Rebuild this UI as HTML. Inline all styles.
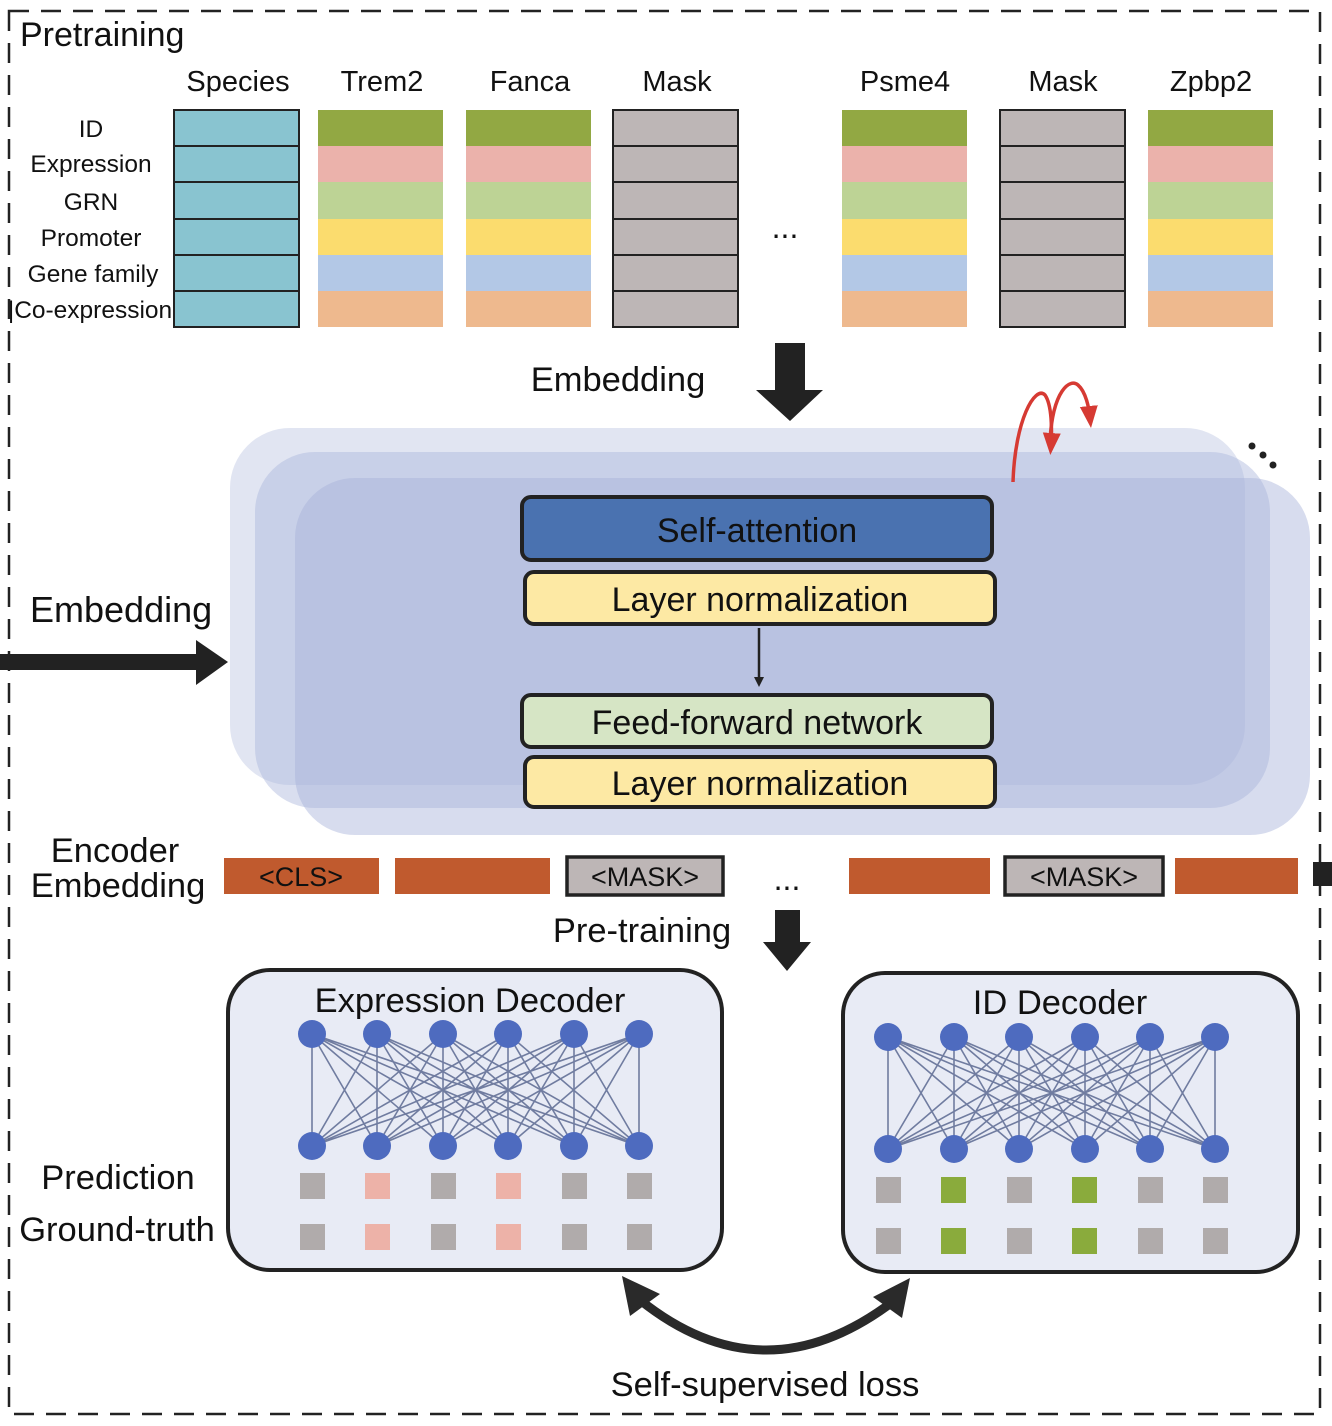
<!DOCTYPE html>
<html><head><meta charset="utf-8"><style>
html,body{margin:0;padding:0;background:#fff;}
svg{display:block;font-family:"Liberation Sans",Arial,sans-serif;}
</style></head><body>
<svg width="1332" height="1426" viewBox="0 0 1332 1426" xmlns="http://www.w3.org/2000/svg">
<defs>
<marker id="ah" markerWidth="10" markerHeight="10" refX="5" refY="5" orient="auto" markerUnits="userSpaceOnUse"><path d="M0,0 L10,5 L0,10 z" fill="#222"/></marker>
<marker id="rh" markerWidth="24" markerHeight="24" refX="12" refY="12" orient="auto" markerUnits="userSpaceOnUse"><path d="M0,3 L22,12 L0,21 z" fill="#d63a33"/></marker>
</defs>
<rect x="9" y="11" width="1311" height="1403" fill="none" stroke="#222" stroke-width="2.5" stroke-dasharray="20 12"/>
<text x="20" y="46" font-size="34" fill="#111">Pretraining</text>
<g font-size="29" fill="#111" text-anchor="middle">
<text x="238" y="91">Species</text><text x="382" y="91">Trem2</text><text x="530" y="91">Fanca</text><text x="677" y="91">Mask</text>
<text x="905" y="91">Psme4</text><text x="1063" y="91">Mask</text><text x="1211" y="91">Zpbp2</text>
</g>
<g font-size="24.5" fill="#111" text-anchor="middle">
<text x="91" y="137">ID</text><text x="91" y="172">Expression</text><text x="91" y="210">GRN</text><text x="91" y="246">Promoter</text><text x="93" y="282">Gene family</text><text x="90" y="318">|Co-expression</text>
</g>
<g stroke="#222" stroke-width="2">
<rect x="174" y="110" width="125" height="36" fill="#89c4d0"/><rect x="174" y="146" width="125" height="36" fill="#89c4d0"/><rect x="174" y="182" width="125" height="37" fill="#89c4d0"/><rect x="174" y="219" width="125" height="36" fill="#89c4d0"/><rect x="174" y="255" width="125" height="36" fill="#89c4d0"/><rect x="174" y="291" width="125" height="36" fill="#89c4d0"/>
<rect x="613" y="110" width="125" height="36" fill="#bdb6b6"/><rect x="613" y="146" width="125" height="36" fill="#bdb6b6"/><rect x="613" y="182" width="125" height="37" fill="#bdb6b6"/><rect x="613" y="219" width="125" height="36" fill="#bdb6b6"/><rect x="613" y="255" width="125" height="36" fill="#bdb6b6"/><rect x="613" y="291" width="125" height="36" fill="#bdb6b6"/>
<rect x="1000" y="110" width="125" height="36" fill="#bdb6b6"/><rect x="1000" y="146" width="125" height="36" fill="#bdb6b6"/><rect x="1000" y="182" width="125" height="37" fill="#bdb6b6"/><rect x="1000" y="219" width="125" height="36" fill="#bdb6b6"/><rect x="1000" y="255" width="125" height="36" fill="#bdb6b6"/><rect x="1000" y="291" width="125" height="36" fill="#bdb6b6"/>
</g>
<g>
<g id="col"><rect x="318" y="110" width="125" height="36" fill="#92a843"/><rect x="318" y="146" width="125" height="36" fill="#ebb2ab"/><rect x="318" y="182" width="125" height="37" fill="#bdd395"/><rect x="318" y="219" width="125" height="36" fill="#fbdc6e"/><rect x="318" y="255" width="125" height="36" fill="#b3c8e6"/><rect x="318" y="291" width="125" height="36" fill="#eeb98e"/></g>
<use href="#col" x="148"/><use href="#col" x="524"/><use href="#col" x="830"/>
</g>
<text x="785" y="238" font-size="32" text-anchor="middle" fill="#111">...</text>
<text x="618" y="391" font-size="34.5" text-anchor="middle" fill="#111">Embedding</text>
<path d="M775,343 H805 V390 H823 L790,421 L756,390 H775 Z" fill="#222"/>
<rect x="230" y="428" width="1015" height="357" rx="60" fill="#c4cbe6" fill-opacity="0.5"/>
<rect x="255" y="452" width="1015" height="356" rx="60" fill="#aab5dc" fill-opacity="0.45"/>
<rect x="295" y="478" width="1015" height="357" rx="60" fill="#a6b2da" fill-opacity="0.45"/>
<path d="M1013,482 C1015,420 1035,385 1045,395 C1052,405 1052,430 1051,445" fill="none" stroke="#d63a33" stroke-width="3.5" marker-end="url(#rh)"/>
<path d="M1050,440 C1053,390 1070,378 1078,385 C1086,392 1089,408 1090,418" fill="none" stroke="#d63a33" stroke-width="3.5" marker-end="url(#rh)"/>
<circle cx="1252" cy="446" r="3.5" fill="#222"/><circle cx="1263" cy="455" r="3.5" fill="#222"/><circle cx="1273" cy="465" r="3.5" fill="#222"/>
<g stroke="#222" stroke-width="4">
<rect x="522" y="497" width="470" height="63" rx="9" fill="#4a72b0"/>
<rect x="525" y="572" width="470" height="52" rx="9" fill="#fde9a4"/>
<rect x="522" y="695" width="470" height="52" rx="9" fill="#d6e5c5"/>
<rect x="525" y="757" width="470" height="50" rx="9" fill="#fde9a4"/>
</g>
<g font-size="34" text-anchor="middle" fill="#111">
<text x="757" y="542">Self-attention</text>
<text x="760" y="611">Layer normalization</text>
<text x="757" y="734">Feed-forward network</text>
<text x="760" y="795">Layer normalization</text>
</g>
<line x1="759" y1="628" x2="759" y2="682" stroke="#222" stroke-width="2.5" marker-end="url(#ah)"/>
<text x="30" y="622" font-size="36" fill="#111">Embedding</text>
<path d="M0,654 H196 V640 L228,662 L196,685 V670 H0 Z" fill="#222"/>
<g font-size="34.5" text-anchor="middle" fill="#111"><text x="115" y="862">Encoder</text><text x="118" y="897">Embedding</text></g>
<g fill="#c05a2e"><rect x="224" y="858" width="155" height="36"/><rect x="395" y="858" width="155" height="36"/><rect x="849" y="858" width="141" height="36"/><rect x="1175" y="858" width="123" height="36"/></g>
<g fill="#bdb6b6" stroke="#222" stroke-width="3.5"><rect x="567" y="857" width="156" height="38"/><rect x="1005" y="857" width="158" height="38"/></g>
<rect x="1313" y="862" width="19" height="24" fill="#222"/>
<g font-size="27" text-anchor="middle" fill="#111"><text x="301" y="886">&lt;CLS&gt;</text><text x="645" y="886">&lt;MASK&gt;</text><text x="1084" y="886">&lt;MASK&gt;</text></g>
<text x="787" y="890" font-size="32" text-anchor="middle" fill="#111">...</text>
<text x="642" y="942" font-size="34.5" text-anchor="middle" fill="#111">Pre-training</text>
<path d="M775,910 H800 V942 H811 L787,971 L763,942 H775 Z" fill="#222"/>
<rect x="228" y="970" width="494" height="300" rx="42" fill="#e8ebf5" stroke="#222" stroke-width="4"/>
<rect x="843" y="973" width="455" height="299" rx="42" fill="#e8ebf5" stroke="#222" stroke-width="4"/>
<text x="470" y="1012" font-size="34.5" text-anchor="middle" fill="#111">Expression Decoder</text>
<text x="1060" y="1014" font-size="34.5" text-anchor="middle" fill="#111">ID Decoder</text>
<g stroke="#5a6890" stroke-width="1.6" stroke-opacity="0.85">
<path d="M312,1034L312,1146M312,1034L377,1146M312,1034L443,1146M312,1034L508,1146M312,1034L574,1146M312,1034L639,1146M377,1034L312,1146M377,1034L377,1146M377,1034L443,1146M377,1034L508,1146M377,1034L574,1146M377,1034L639,1146M443,1034L312,1146M443,1034L377,1146M443,1034L443,1146M443,1034L508,1146M443,1034L574,1146M443,1034L639,1146M508,1034L312,1146M508,1034L377,1146M508,1034L443,1146M508,1034L508,1146M508,1034L574,1146M508,1034L639,1146M574,1034L312,1146M574,1034L377,1146M574,1034L443,1146M574,1034L508,1146M574,1034L574,1146M574,1034L639,1146M639,1034L312,1146M639,1034L377,1146M639,1034L443,1146M639,1034L508,1146M639,1034L574,1146M639,1034L639,1146"/>
<path d="M888,1037L888,1149M888,1037L954,1149M888,1037L1019,1149M888,1037L1085,1149M888,1037L1150,1149M888,1037L1215,1149M954,1037L888,1149M954,1037L954,1149M954,1037L1019,1149M954,1037L1085,1149M954,1037L1150,1149M954,1037L1215,1149M1019,1037L888,1149M1019,1037L954,1149M1019,1037L1019,1149M1019,1037L1085,1149M1019,1037L1150,1149M1019,1037L1215,1149M1085,1037L888,1149M1085,1037L954,1149M1085,1037L1019,1149M1085,1037L1085,1149M1085,1037L1150,1149M1085,1037L1215,1149M1150,1037L888,1149M1150,1037L954,1149M1150,1037L1019,1149M1150,1037L1085,1149M1150,1037L1150,1149M1150,1037L1215,1149M1215,1037L888,1149M1215,1037L954,1149M1215,1037L1019,1149M1215,1037L1085,1149M1215,1037L1150,1149M1215,1037L1215,1149"/>
</g>
<g fill="#4e6bbf">
<circle cx="312" cy="1034" r="14"/><circle cx="377" cy="1034" r="14"/><circle cx="443" cy="1034" r="14"/><circle cx="508" cy="1034" r="14"/><circle cx="574" cy="1034" r="14"/><circle cx="639" cy="1034" r="14"/>
<circle cx="312" cy="1146" r="14"/><circle cx="377" cy="1146" r="14"/><circle cx="443" cy="1146" r="14"/><circle cx="508" cy="1146" r="14"/><circle cx="574" cy="1146" r="14"/><circle cx="639" cy="1146" r="14"/>
<circle cx="888" cy="1037" r="14"/><circle cx="954" cy="1037" r="14"/><circle cx="1019" cy="1037" r="14"/><circle cx="1085" cy="1037" r="14"/><circle cx="1150" cy="1037" r="14"/><circle cx="1215" cy="1037" r="14"/>
<circle cx="888" cy="1149" r="14"/><circle cx="954" cy="1149" r="14"/><circle cx="1019" cy="1149" r="14"/><circle cx="1085" cy="1149" r="14"/><circle cx="1150" cy="1149" r="14"/><circle cx="1215" cy="1149" r="14"/>
</g>
<g>
<rect x="300" y="1173" width="25" height="26" fill="#b0abab"/><rect x="365" y="1173" width="25" height="26" fill="#edb2a8"/><rect x="431" y="1173" width="25" height="26" fill="#b0abab"/><rect x="496" y="1173" width="25" height="26" fill="#edb2a8"/><rect x="562" y="1173" width="25" height="26" fill="#b0abab"/><rect x="627" y="1173" width="25" height="26" fill="#b0abab"/>
<rect x="300" y="1224" width="25" height="26" fill="#b0abab"/><rect x="365" y="1224" width="25" height="26" fill="#edb2a8"/><rect x="431" y="1224" width="25" height="26" fill="#b0abab"/><rect x="496" y="1224" width="25" height="26" fill="#edb2a8"/><rect x="562" y="1224" width="25" height="26" fill="#b0abab"/><rect x="627" y="1224" width="25" height="26" fill="#b0abab"/>
<rect x="876" y="1177" width="25" height="26" fill="#b0abab"/><rect x="941" y="1177" width="25" height="26" fill="#8aab3c"/><rect x="1007" y="1177" width="25" height="26" fill="#b0abab"/><rect x="1072" y="1177" width="25" height="26" fill="#8aab3c"/><rect x="1138" y="1177" width="25" height="26" fill="#b0abab"/><rect x="1203" y="1177" width="25" height="26" fill="#b0abab"/>
<rect x="876" y="1228" width="25" height="26" fill="#b0abab"/><rect x="941" y="1228" width="25" height="26" fill="#8aab3c"/><rect x="1007" y="1228" width="25" height="26" fill="#b0abab"/><rect x="1072" y="1228" width="25" height="26" fill="#8aab3c"/><rect x="1138" y="1228" width="25" height="26" fill="#b0abab"/><rect x="1203" y="1228" width="25" height="26" fill="#b0abab"/>
</g>
<g font-size="34.5" text-anchor="middle" fill="#111"><text x="118" y="1189">Prediction</text><text x="117" y="1241">Ground-truth</text></g>
<path d="M640,1300 Q765,1400 895,1300" fill="none" stroke="#2a2a2a" stroke-width="9"/>
<path d="M622,1276 L660,1294 L630,1316 Z" fill="#2a2a2a"/>
<path d="M910,1278 L902,1318 L873,1297 Z" fill="#2a2a2a"/>
<text x="765" y="1396" font-size="34.5" text-anchor="middle" fill="#111">Self-supervised loss</text>
</svg>
</body></html>
